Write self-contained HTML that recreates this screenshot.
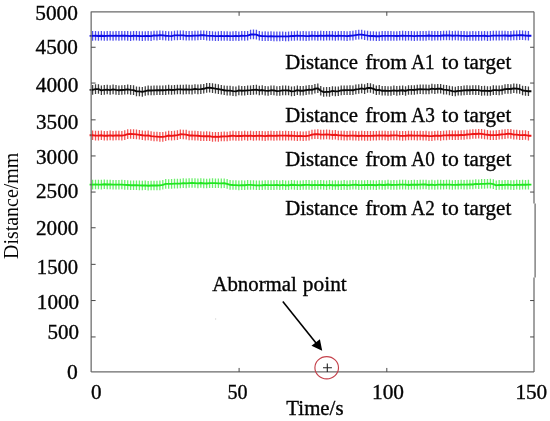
<!DOCTYPE html>
<html><head><meta charset="utf-8"><title>Distance chart</title>
<style>html,body{margin:0;padding:0;background:#fff}svg{display:block;filter:blur(0.35px)}</style></head>
<body>
<svg width="550" height="421" viewBox="0 0 550 421">
<rect width="550" height="421" fill="#fff"/>
<path d="M92.60 31.06v9.6M95.52 30.98v9.6M98.45 31.23v9.6M101.38 30.94v9.6M104.30 31.17v9.6M107.22 31.08v9.6M110.15 30.93v9.6M113.07 31.15v9.6M116.00 30.92v9.6M118.92 31.12v9.6M121.85 30.93v9.6M124.77 30.95v9.6M127.70 31.11v9.6M130.62 31.31v9.6M133.55 30.96v9.6M136.47 31.01v9.6M139.40 31.21v9.6M142.32 31.37v9.6M145.25 31.19v9.6M148.17 31.10v9.6M151.10 31.37v9.6M154.02 30.67v9.6M156.95 30.80v9.6M159.88 30.46v9.6M162.80 30.64v9.6M165.72 30.95v9.6M168.65 31.15v9.6M171.57 31.25v9.6M174.50 30.64v9.6M177.42 30.58v9.6M180.35 30.52v9.6M183.27 30.58v9.6M186.20 31.02v9.6M189.12 31.02v9.6M192.05 30.97v9.6M194.97 30.81v9.6M197.90 30.75v9.6M200.82 30.43v9.6M203.75 30.42v9.6M206.67 30.85v9.6M209.60 31.12v9.6M212.52 31.15v9.6M215.45 31.39v9.6M218.38 31.34v9.6M221.30 31.10v9.6M224.22 31.26v9.6M227.15 31.22v9.6M230.07 31.38v9.6M233.00 31.29v9.6M235.92 31.06v9.6M238.85 31.40v9.6M241.77 30.96v9.6M244.70 31.11v9.6M247.62 30.89v9.6M250.55 29.72v9.6M253.47 29.56v9.6M256.40 29.85v9.6M259.32 30.99v9.6M262.25 31.38v9.6M265.17 31.31v9.6M268.10 31.52v9.6M271.02 31.31v9.6M273.95 31.57v9.6M276.88 31.58v9.6M279.80 31.59v9.6M282.72 31.51v9.6M285.65 31.63v9.6M288.57 31.58v9.6M291.50 31.23v9.6M294.42 31.22v9.6M297.35 30.85v9.6M300.27 31.15v9.6M303.20 31.12v9.6M306.12 31.30v9.6M309.05 31.22v9.6M311.97 30.96v9.6M314.90 31.01v9.6M317.82 31.16v9.6M320.75 30.85v9.6M323.67 31.08v9.6M326.60 30.94v9.6M329.52 30.92v9.6M332.45 30.90v9.6M335.37 31.26v9.6M338.30 30.95v9.6M341.22 31.02v9.6M344.15 31.09v9.6M347.07 31.33v9.6M350.00 30.94v9.6M352.92 30.85v9.6M355.85 30.26v9.6M358.77 29.87v9.6M361.70 29.76v9.6M364.62 30.38v9.6M367.55 30.86v9.6M370.47 31.21v9.6M373.40 31.18v9.6M376.32 31.43v9.6M379.25 31.46v9.6M382.17 31.05v9.6M385.10 31.05v9.6M388.02 31.06v9.6M390.95 31.04v9.6M393.87 31.15v9.6M396.80 31.18v9.6M399.72 31.00v9.6M402.65 30.86v9.6M405.57 31.05v9.6M408.50 31.01v9.6M411.42 31.10v9.6M414.35 31.28v9.6M417.27 31.15v9.6M420.20 31.06v9.6M423.12 31.10v9.6M426.05 31.10v9.6M428.97 30.74v9.6M431.90 31.11v9.6M434.82 31.00v9.6M437.75 31.00v9.6M440.67 30.92v9.6M443.60 30.70v9.6M446.52 30.70v9.6M449.45 30.60v9.6M452.37 30.94v9.6M455.30 30.75v9.6M458.22 30.86v9.6M461.15 31.04v9.6M464.07 31.10v9.6M467.00 31.25v9.6M469.92 31.13v9.6M472.85 31.09v9.6M475.77 31.14v9.6M478.70 31.07v9.6M481.62 31.15v9.6M484.55 30.92v9.6M487.47 31.29v9.6M490.40 31.10v9.6M493.32 30.82v9.6M496.25 30.84v9.6M499.17 30.87v9.6M502.10 30.87v9.6M505.02 30.70v9.6M507.95 30.99v9.6M510.87 30.97v9.6M513.80 30.62v9.6M516.72 30.57v9.6M519.65 30.34v9.6M522.57 30.43v9.6M525.50 30.77v9.6M528.42 30.95v9.6" stroke="#0b0be6" stroke-width="1.3" fill="none" opacity="0.72"/>
<polyline points="89.60,35.86 92.60,35.86 95.52,35.78 98.45,36.03 101.38,35.74 104.30,35.97 107.22,35.88 110.15,35.73 113.07,35.95 116.00,35.72 118.92,35.92 121.85,35.73 124.77,35.75 127.70,35.91 130.62,36.11 133.55,35.76 136.47,35.81 139.40,36.01 142.32,36.17 145.25,35.99 148.17,35.90 151.10,36.17 154.02,35.47 156.95,35.60 159.88,35.26 162.80,35.44 165.72,35.75 168.65,35.95 171.57,36.05 174.50,35.44 177.42,35.38 180.35,35.32 183.27,35.38 186.20,35.82 189.12,35.82 192.05,35.77 194.97,35.61 197.90,35.55 200.82,35.23 203.75,35.22 206.67,35.65 209.60,35.92 212.52,35.95 215.45,36.19 218.38,36.14 221.30,35.90 224.22,36.06 227.15,36.02 230.07,36.18 233.00,36.09 235.92,35.86 238.85,36.20 241.77,35.76 244.70,35.91 247.62,35.69 250.55,34.52 253.47,34.36 256.40,34.65 259.32,35.79 262.25,36.18 265.17,36.11 268.10,36.32 271.02,36.11 273.95,36.37 276.88,36.38 279.80,36.39 282.72,36.31 285.65,36.43 288.57,36.38 291.50,36.03 294.42,36.02 297.35,35.65 300.27,35.95 303.20,35.92 306.12,36.10 309.05,36.02 311.97,35.76 314.90,35.81 317.82,35.96 320.75,35.65 323.67,35.88 326.60,35.74 329.52,35.72 332.45,35.70 335.37,36.06 338.30,35.75 341.22,35.82 344.15,35.89 347.07,36.13 350.00,35.74 352.92,35.65 355.85,35.06 358.77,34.67 361.70,34.56 364.62,35.18 367.55,35.66 370.47,36.01 373.40,35.98 376.32,36.23 379.25,36.26 382.17,35.85 385.10,35.85 388.02,35.86 390.95,35.84 393.87,35.95 396.80,35.98 399.72,35.80 402.65,35.66 405.57,35.85 408.50,35.81 411.42,35.90 414.35,36.08 417.27,35.95 420.20,35.86 423.12,35.90 426.05,35.90 428.97,35.54 431.90,35.91 434.82,35.80 437.75,35.80 440.67,35.72 443.60,35.50 446.52,35.50 449.45,35.40 452.37,35.74 455.30,35.55 458.22,35.66 461.15,35.84 464.07,35.90 467.00,36.05 469.92,35.93 472.85,35.89 475.77,35.94 478.70,35.87 481.62,35.95 484.55,35.72 487.47,36.09 490.40,35.90 493.32,35.62 496.25,35.64 499.17,35.67 502.10,35.67 505.02,35.50 507.95,35.79 510.87,35.77 513.80,35.42 516.72,35.37 519.65,35.14 522.57,35.23 525.50,35.57 528.42,35.75 531.42,35.75" stroke="#0b0be6" stroke-width="1.85" fill="none" stroke-linejoin="round"/>
<path d="M92.60 85.10v9.6M95.52 84.34v9.6M98.45 84.27v9.6M101.38 85.51v9.6M104.30 85.12v9.6M107.22 84.75v9.6M110.15 85.25v9.6M113.07 84.58v9.6M116.00 85.06v9.6M118.92 85.45v9.6M121.85 85.19v9.6M124.77 84.94v9.6M127.70 84.54v9.6M130.62 85.03v9.6M133.55 85.31v9.6M136.47 86.55v9.6M139.40 86.63v9.6M142.32 87.03v9.6M145.25 86.25v9.6M148.17 85.58v9.6M151.10 85.72v9.6M154.02 85.61v9.6M156.95 85.43v9.6M159.88 85.39v9.6M162.80 85.43v9.6M165.72 85.37v9.6M168.65 84.79v9.6M171.57 85.17v9.6M174.50 85.00v9.6M177.42 84.63v9.6M180.35 84.63v9.6M183.27 84.82v9.6M186.20 84.55v9.6M189.12 84.76v9.6M192.05 84.84v9.6M194.97 84.14v9.6M197.90 84.61v9.6M200.82 84.37v9.6M203.75 83.99v9.6M206.67 83.06v9.6M209.60 82.93v9.6M212.52 83.34v9.6M215.45 83.86v9.6M218.38 84.28v9.6M221.30 84.88v9.6M224.22 85.46v9.6M227.15 85.80v9.6M230.07 85.81v9.6M233.00 86.32v9.6M235.92 86.55v9.6M238.85 85.53v9.6M241.77 85.93v9.6M244.70 85.90v9.6M247.62 85.51v9.6M250.55 85.40v9.6M253.47 85.11v9.6M256.40 84.83v9.6M259.32 85.67v9.6M262.25 85.24v9.6M265.17 85.89v9.6M268.10 86.15v9.6M271.02 85.48v9.6M273.95 85.53v9.6M276.88 86.27v9.6M279.80 86.11v9.6M282.72 85.56v9.6M285.65 85.60v9.6M288.57 85.68v9.6M291.50 86.57v9.6M294.42 86.35v9.6M297.35 85.38v9.6M300.27 85.97v9.6M303.20 85.94v9.6M306.12 85.38v9.6M309.05 84.93v9.6M311.97 85.02v9.6M314.90 83.98v9.6M317.82 83.52v9.6M320.75 85.97v9.6M323.67 87.26v9.6M326.60 87.00v9.6M329.52 87.12v9.6M332.45 86.15v9.6M335.37 86.55v9.6M338.30 86.43v9.6M341.22 85.57v9.6M344.15 85.47v9.6M347.07 85.40v9.6M350.00 85.29v9.6M352.92 85.49v9.6M355.85 84.59v9.6M358.77 84.25v9.6M361.70 83.66v9.6M364.62 84.28v9.6M367.55 83.03v9.6M370.47 83.18v9.6M373.40 84.17v9.6M376.32 85.42v9.6M379.25 85.04v9.6M382.17 85.97v9.6M385.10 85.91v9.6M388.02 86.14v9.6M390.95 86.13v9.6M393.87 85.52v9.6M396.80 86.03v9.6M399.72 85.72v9.6M402.65 85.44v9.6M405.57 86.19v9.6M408.50 85.13v9.6M411.42 85.15v9.6M414.35 85.15v9.6M417.27 84.74v9.6M420.20 84.39v9.6M423.12 84.60v9.6M426.05 84.58v9.6M428.97 84.77v9.6M431.90 83.87v9.6M434.82 84.33v9.6M437.75 83.91v9.6M440.67 83.94v9.6M443.60 84.80v9.6M446.52 85.01v9.6M449.45 85.67v9.6M452.37 86.36v9.6M455.30 86.69v9.6M458.22 86.02v9.6M461.15 85.97v9.6M464.07 85.54v9.6M467.00 85.31v9.6M469.92 85.43v9.6M472.85 85.17v9.6M475.77 85.34v9.6M478.70 85.37v9.6M481.62 86.04v9.6M484.55 85.85v9.6M487.47 86.13v9.6M490.40 86.23v9.6M493.32 85.30v9.6M496.25 85.40v9.6M499.17 85.56v9.6M502.10 85.20v9.6M505.02 84.26v9.6M507.95 84.11v9.6M510.87 84.19v9.6M513.80 83.51v9.6M516.72 83.81v9.6M519.65 84.24v9.6M522.57 85.67v9.6M525.50 86.05v9.6M528.42 86.48v9.6" stroke="#0a0a0a" stroke-width="1.3" fill="none" opacity="0.78"/>
<polyline points="89.60,89.90 92.60,89.90 95.52,89.14 98.45,89.07 101.38,90.31 104.30,89.92 107.22,89.55 110.15,90.05 113.07,89.38 116.00,89.86 118.92,90.25 121.85,89.99 124.77,89.74 127.70,89.34 130.62,89.83 133.55,90.11 136.47,91.35 139.40,91.43 142.32,91.83 145.25,91.05 148.17,90.38 151.10,90.52 154.02,90.41 156.95,90.23 159.88,90.19 162.80,90.23 165.72,90.17 168.65,89.59 171.57,89.97 174.50,89.80 177.42,89.43 180.35,89.43 183.27,89.62 186.20,89.35 189.12,89.56 192.05,89.64 194.97,88.94 197.90,89.41 200.82,89.17 203.75,88.79 206.67,87.86 209.60,87.73 212.52,88.14 215.45,88.66 218.38,89.08 221.30,89.68 224.22,90.26 227.15,90.60 230.07,90.61 233.00,91.12 235.92,91.35 238.85,90.33 241.77,90.73 244.70,90.70 247.62,90.31 250.55,90.20 253.47,89.91 256.40,89.63 259.32,90.47 262.25,90.04 265.17,90.69 268.10,90.95 271.02,90.28 273.95,90.33 276.88,91.07 279.80,90.91 282.72,90.36 285.65,90.40 288.57,90.48 291.50,91.37 294.42,91.15 297.35,90.18 300.27,90.77 303.20,90.74 306.12,90.18 309.05,89.73 311.97,89.82 314.90,88.78 317.82,88.32 320.75,90.77 323.67,92.06 326.60,91.80 329.52,91.92 332.45,90.95 335.37,91.35 338.30,91.23 341.22,90.37 344.15,90.27 347.07,90.20 350.00,90.09 352.92,90.29 355.85,89.39 358.77,89.05 361.70,88.46 364.62,89.08 367.55,87.83 370.47,87.98 373.40,88.97 376.32,90.22 379.25,89.84 382.17,90.77 385.10,90.71 388.02,90.94 390.95,90.93 393.87,90.32 396.80,90.83 399.72,90.52 402.65,90.24 405.57,90.99 408.50,89.93 411.42,89.95 414.35,89.95 417.27,89.54 420.20,89.19 423.12,89.40 426.05,89.38 428.97,89.57 431.90,88.67 434.82,89.13 437.75,88.71 440.67,88.74 443.60,89.60 446.52,89.81 449.45,90.47 452.37,91.16 455.30,91.49 458.22,90.82 461.15,90.77 464.07,90.34 467.00,90.11 469.92,90.23 472.85,89.97 475.77,90.14 478.70,90.17 481.62,90.84 484.55,90.65 487.47,90.93 490.40,91.03 493.32,90.10 496.25,90.20 499.17,90.36 502.10,90.00 505.02,89.06 507.95,88.91 510.87,88.99 513.80,88.31 516.72,88.61 519.65,89.04 522.57,90.47 525.50,90.85 528.42,91.28 531.42,91.28" stroke="#0a0a0a" stroke-width="1.85" fill="none" stroke-linejoin="round"/>
<path d="M92.60 130.49v9.6M95.52 130.83v9.6M98.45 130.80v9.6M101.38 130.49v9.6M104.30 130.93v9.6M107.22 130.98v9.6M110.15 130.53v9.6M113.07 130.97v9.6M116.00 130.64v9.6M118.92 130.69v9.6M121.85 130.89v9.6M124.77 130.30v9.6M127.70 129.31v9.6M130.62 129.16v9.6M133.55 129.33v9.6M136.47 129.60v9.6M139.40 130.00v9.6M142.32 130.46v9.6M145.25 130.83v9.6M148.17 130.57v9.6M151.10 131.27v9.6M154.02 131.65v9.6M156.95 131.76v9.6M159.88 132.10v9.6M162.80 132.08v9.6M165.72 131.51v9.6M168.65 130.71v9.6M171.57 131.00v9.6M174.50 130.69v9.6M177.42 130.32v9.6M180.35 129.48v9.6M183.27 129.64v9.6M186.20 129.82v9.6M189.12 130.68v9.6M192.05 130.72v9.6M194.97 130.78v9.6M197.90 130.99v9.6M200.82 131.37v9.6M203.75 131.46v9.6M206.67 131.30v9.6M209.60 131.42v9.6M212.52 132.05v9.6M215.45 131.96v9.6M218.38 132.11v9.6M221.30 131.74v9.6M224.22 131.55v9.6M227.15 131.65v9.6M230.07 131.20v9.6M233.00 130.79v9.6M235.92 131.26v9.6M238.85 131.08v9.6M241.77 131.18v9.6M244.70 130.76v9.6M247.62 131.23v9.6M250.55 130.76v9.6M253.47 131.24v9.6M256.40 131.01v9.6M259.32 130.94v9.6M262.25 131.08v9.6M265.17 131.31v9.6M268.10 130.93v9.6M271.02 130.85v9.6M273.95 131.10v9.6M276.88 130.93v9.6M279.80 130.86v9.6M282.72 130.89v9.6M285.65 130.83v9.6M288.57 130.92v9.6M291.50 130.99v9.6M294.42 131.04v9.6M297.35 131.39v9.6M300.27 131.19v9.6M303.20 131.38v9.6M306.12 131.21v9.6M309.05 130.84v9.6M311.97 129.77v9.6M314.90 129.45v9.6M317.82 129.33v9.6M320.75 129.82v9.6M323.67 129.78v9.6M326.60 129.61v9.6M329.52 129.80v9.6M332.45 130.22v9.6M335.37 129.96v9.6M338.30 130.65v9.6M341.22 130.64v9.6M344.15 130.79v9.6M347.07 131.00v9.6M350.00 130.75v9.6M352.92 130.83v9.6M355.85 130.96v9.6M358.77 131.16v9.6M361.70 130.80v9.6M364.62 131.12v9.6M367.55 131.07v9.6M370.47 131.05v9.6M373.40 130.93v9.6M376.32 130.90v9.6M379.25 130.73v9.6M382.17 130.77v9.6M385.10 130.71v9.6M388.02 131.08v9.6M390.95 130.74v9.6M393.87 130.64v9.6M396.80 130.56v9.6M399.72 131.00v9.6M402.65 131.03v9.6M405.57 130.92v9.6M408.50 130.71v9.6M411.42 130.71v9.6M414.35 130.77v9.6M417.27 130.90v9.6M420.20 130.75v9.6M423.12 130.94v9.6M426.05 130.85v9.6M428.97 131.28v9.6M431.90 131.28v9.6M434.82 130.99v9.6M437.75 130.75v9.6M440.67 131.11v9.6M443.60 130.63v9.6M446.52 130.57v9.6M449.45 130.27v9.6M452.37 130.42v9.6M455.30 130.42v9.6M458.22 130.41v9.6M461.15 130.21v9.6M464.07 130.26v9.6M467.00 129.71v9.6M469.92 129.56v9.6M472.85 129.18v9.6M475.77 129.18v9.6M478.70 128.93v9.6M481.62 129.10v9.6M484.55 129.62v9.6M487.47 129.96v9.6M490.40 130.41v9.6M493.32 130.39v9.6M496.25 130.32v9.6M499.17 129.91v9.6M502.10 129.55v9.6M505.02 129.34v9.6M507.95 128.93v9.6M510.87 129.06v9.6M513.80 129.86v9.6M516.72 129.78v9.6M519.65 130.33v9.6M522.57 130.36v9.6M525.50 130.23v9.6M528.42 130.92v9.6" stroke="#ee1414" stroke-width="1.3" fill="none" opacity="0.72"/>
<polyline points="89.60,135.29 92.60,135.29 95.52,135.63 98.45,135.60 101.38,135.29 104.30,135.73 107.22,135.78 110.15,135.33 113.07,135.77 116.00,135.44 118.92,135.49 121.85,135.69 124.77,135.10 127.70,134.11 130.62,133.96 133.55,134.13 136.47,134.40 139.40,134.80 142.32,135.26 145.25,135.63 148.17,135.37 151.10,136.07 154.02,136.45 156.95,136.56 159.88,136.90 162.80,136.88 165.72,136.31 168.65,135.51 171.57,135.80 174.50,135.49 177.42,135.12 180.35,134.28 183.27,134.44 186.20,134.62 189.12,135.48 192.05,135.52 194.97,135.58 197.90,135.79 200.82,136.17 203.75,136.26 206.67,136.10 209.60,136.22 212.52,136.85 215.45,136.76 218.38,136.91 221.30,136.54 224.22,136.35 227.15,136.45 230.07,136.00 233.00,135.59 235.92,136.06 238.85,135.88 241.77,135.98 244.70,135.56 247.62,136.03 250.55,135.56 253.47,136.04 256.40,135.81 259.32,135.74 262.25,135.88 265.17,136.11 268.10,135.73 271.02,135.65 273.95,135.90 276.88,135.73 279.80,135.66 282.72,135.69 285.65,135.63 288.57,135.72 291.50,135.79 294.42,135.84 297.35,136.19 300.27,135.99 303.20,136.18 306.12,136.01 309.05,135.64 311.97,134.57 314.90,134.25 317.82,134.13 320.75,134.62 323.67,134.58 326.60,134.41 329.52,134.60 332.45,135.02 335.37,134.76 338.30,135.45 341.22,135.44 344.15,135.59 347.07,135.80 350.00,135.55 352.92,135.63 355.85,135.76 358.77,135.96 361.70,135.60 364.62,135.92 367.55,135.87 370.47,135.85 373.40,135.73 376.32,135.70 379.25,135.53 382.17,135.57 385.10,135.51 388.02,135.88 390.95,135.54 393.87,135.44 396.80,135.36 399.72,135.80 402.65,135.83 405.57,135.72 408.50,135.51 411.42,135.51 414.35,135.57 417.27,135.70 420.20,135.55 423.12,135.74 426.05,135.65 428.97,136.08 431.90,136.08 434.82,135.79 437.75,135.55 440.67,135.91 443.60,135.43 446.52,135.37 449.45,135.07 452.37,135.22 455.30,135.22 458.22,135.21 461.15,135.01 464.07,135.06 467.00,134.51 469.92,134.36 472.85,133.98 475.77,133.98 478.70,133.73 481.62,133.90 484.55,134.42 487.47,134.76 490.40,135.21 493.32,135.19 496.25,135.12 499.17,134.71 502.10,134.35 505.02,134.14 507.95,133.73 510.87,133.86 513.80,134.66 516.72,134.58 519.65,135.13 522.57,135.16 525.50,135.03 528.42,135.72 531.42,135.72" stroke="#ee1414" stroke-width="1.85" fill="none" stroke-linejoin="round"/>
<path d="M92.60 179.84v9.6M95.52 179.68v9.6M98.45 179.75v9.6M101.38 179.81v9.6M104.30 179.42v9.6M107.22 179.67v9.6M110.15 179.68v9.6M113.07 179.89v9.6M116.00 179.88v9.6M118.92 179.90v9.6M121.85 179.77v9.6M124.77 180.08v9.6M127.70 180.17v9.6M130.62 180.42v9.6M133.55 180.38v9.6M136.47 180.44v9.6M139.40 180.58v9.6M142.32 180.71v9.6M145.25 180.52v9.6M148.17 180.92v9.6M151.10 180.70v9.6M154.02 180.70v9.6M156.95 180.68v9.6M159.88 180.61v9.6M162.80 180.01v9.6M165.72 179.08v9.6M168.65 179.13v9.6M171.57 179.04v9.6M174.50 178.85v9.6M177.42 178.78v9.6M180.35 178.75v9.6M183.27 178.29v9.6M186.20 178.60v9.6M189.12 178.26v9.6M192.05 178.14v9.6M194.97 178.26v9.6M197.90 178.54v9.6M200.82 178.22v9.6M203.75 178.54v9.6M206.67 178.69v9.6M209.60 178.40v9.6M212.52 178.33v9.6M215.45 178.39v9.6M218.38 178.51v9.6M221.30 178.56v9.6M224.22 178.47v9.6M227.15 179.06v9.6M230.07 180.03v9.6M233.00 180.19v9.6M235.92 180.25v9.6M238.85 180.55v9.6M241.77 180.28v9.6M244.70 180.44v9.6M247.62 180.11v9.6M250.55 180.14v9.6M253.47 180.26v9.6M256.40 180.50v9.6M259.32 180.50v9.6M262.25 180.48v9.6M265.17 180.23v9.6M268.10 180.35v9.6M271.02 180.30v9.6M273.95 180.29v9.6M276.88 180.06v9.6M279.80 180.51v9.6M282.72 180.07v9.6M285.65 180.52v9.6M288.57 180.49v9.6M291.50 179.92v9.6M294.42 180.18v9.6M297.35 180.39v9.6M300.27 180.48v9.6M303.20 180.17v9.6M306.12 180.06v9.6M309.05 180.03v9.6M311.97 180.47v9.6M314.90 180.04v9.6M317.82 180.26v9.6M320.75 180.00v9.6M323.67 180.24v9.6M326.60 180.50v9.6M329.52 180.01v9.6M332.45 180.43v9.6M335.37 180.25v9.6M338.30 180.48v9.6M341.22 180.38v9.6M344.15 180.10v9.6M347.07 180.51v9.6M350.00 180.27v9.6M352.92 180.00v9.6M355.85 179.99v9.6M358.77 180.28v9.6M361.70 180.26v9.6M364.62 180.18v9.6M367.55 180.08v9.6M370.47 180.21v9.6M373.40 180.19v9.6M376.32 180.48v9.6M379.25 179.90v9.6M382.17 180.24v9.6M385.10 180.19v9.6M388.02 179.69v9.6M390.95 180.16v9.6M393.87 180.03v9.6M396.80 180.15v9.6M399.72 179.78v9.6M402.65 179.84v9.6M405.57 179.86v9.6M408.50 180.23v9.6M411.42 179.99v9.6M414.35 179.86v9.6M417.27 179.91v9.6M420.20 179.83v9.6M423.12 179.70v9.6M426.05 179.74v9.6M428.97 180.19v9.6M431.90 179.87v9.6M434.82 180.26v9.6M437.75 179.85v9.6M440.67 179.86v9.6M443.60 179.99v9.6M446.52 179.77v9.6M449.45 179.83v9.6M452.37 180.13v9.6M455.30 180.02v9.6M458.22 179.92v9.6M461.15 179.76v9.6M464.07 179.89v9.6M467.00 179.87v9.6M469.92 179.63v9.6M472.85 179.69v9.6M475.77 179.16v9.6M478.70 179.39v9.6M481.62 179.03v9.6M484.55 179.06v9.6M487.47 178.90v9.6M490.40 178.78v9.6M493.32 179.37v9.6M496.25 180.52v9.6M499.17 180.06v9.6M502.10 180.18v9.6M505.02 180.00v9.6M507.95 179.90v9.6M510.87 180.14v9.6M513.80 180.28v9.6M516.72 179.83v9.6M519.65 180.05v9.6M522.57 179.82v9.6M525.50 179.95v9.6M528.42 179.84v9.6" stroke="#1fe61f" stroke-width="1.3" fill="none" opacity="0.66"/>
<polyline points="89.60,184.64 92.60,184.64 95.52,184.48 98.45,184.55 101.38,184.61 104.30,184.22 107.22,184.47 110.15,184.48 113.07,184.69 116.00,184.68 118.92,184.70 121.85,184.57 124.77,184.88 127.70,184.97 130.62,185.22 133.55,185.18 136.47,185.24 139.40,185.38 142.32,185.51 145.25,185.32 148.17,185.72 151.10,185.50 154.02,185.50 156.95,185.48 159.88,185.41 162.80,184.81 165.72,183.88 168.65,183.93 171.57,183.84 174.50,183.65 177.42,183.58 180.35,183.55 183.27,183.09 186.20,183.40 189.12,183.06 192.05,182.94 194.97,183.06 197.90,183.34 200.82,183.02 203.75,183.34 206.67,183.49 209.60,183.20 212.52,183.13 215.45,183.19 218.38,183.31 221.30,183.36 224.22,183.27 227.15,183.86 230.07,184.83 233.00,184.99 235.92,185.05 238.85,185.35 241.77,185.08 244.70,185.24 247.62,184.91 250.55,184.94 253.47,185.06 256.40,185.30 259.32,185.30 262.25,185.28 265.17,185.03 268.10,185.15 271.02,185.10 273.95,185.09 276.88,184.86 279.80,185.31 282.72,184.87 285.65,185.32 288.57,185.29 291.50,184.72 294.42,184.98 297.35,185.19 300.27,185.28 303.20,184.97 306.12,184.86 309.05,184.83 311.97,185.27 314.90,184.84 317.82,185.06 320.75,184.80 323.67,185.04 326.60,185.30 329.52,184.81 332.45,185.23 335.37,185.05 338.30,185.28 341.22,185.18 344.15,184.90 347.07,185.31 350.00,185.07 352.92,184.80 355.85,184.79 358.77,185.08 361.70,185.06 364.62,184.98 367.55,184.88 370.47,185.01 373.40,184.99 376.32,185.28 379.25,184.70 382.17,185.04 385.10,184.99 388.02,184.49 390.95,184.96 393.87,184.83 396.80,184.95 399.72,184.58 402.65,184.64 405.57,184.66 408.50,185.03 411.42,184.79 414.35,184.66 417.27,184.71 420.20,184.63 423.12,184.50 426.05,184.54 428.97,184.99 431.90,184.67 434.82,185.06 437.75,184.65 440.67,184.66 443.60,184.79 446.52,184.57 449.45,184.63 452.37,184.93 455.30,184.82 458.22,184.72 461.15,184.56 464.07,184.69 467.00,184.67 469.92,184.43 472.85,184.49 475.77,183.96 478.70,184.19 481.62,183.83 484.55,183.86 487.47,183.70 490.40,183.58 493.32,184.17 496.25,185.32 499.17,184.86 502.10,184.98 505.02,184.80 507.95,184.70 510.87,184.94 513.80,185.08 516.72,184.63 519.65,184.85 522.57,184.62 525.50,184.75 528.42,184.64 531.42,184.64" stroke="#1fe61f" stroke-width="1.85" fill="none" stroke-linejoin="round"/>
<g stroke="#6a6a6a" stroke-width="1.25" fill="none" stroke-linejoin="round">
<path d="M91.15 371.95V11.8H534.0"/>
<path d="M91.15 371.95H534.0"/>
<path d="M534.0 11.8V203.5"/>
<path d="M535.1 203.5V277.5"/>
<path d="M534.0 277.5V371.95"/>
</g>
<g stroke="#484848" stroke-width="1.0">
<path d="M91.15 336.95H95.6"/>
<path d="M534.0 336.95h-3.9"/>
<path d="M91.15 300.55H95.6"/>
<path d="M534.0 300.55h-3.9"/>
<path d="M91.15 264.35H95.6"/>
<path d="M91.15 227.75H95.6"/>
<path d="M91.15 192.05H95.6"/>
<path d="M534.0 192.05h-3.9"/>
<path d="M91.15 155.95H95.6"/>
<path d="M534.0 155.95h-3.9"/>
<path d="M91.15 119.85H95.6"/>
<path d="M534.0 119.85h-3.9"/>
<path d="M91.15 83.05H95.6"/>
<path d="M534.0 83.05h-3.9"/>
<path d="M91.15 47.25H95.6"/>
<path d="M534.0 47.25h-3.9"/>
<path d="M239.1 371.95v-4"/>
<path d="M239.1 11.8v4"/>
<path d="M386.8 371.95v-4"/>
<path d="M386.8 11.8v4"/>
</g>
<g font-family="'Liberation Serif', serif" font-size="20" fill="#050505" stroke="#050505" stroke-width="0.35">
<text x="35.24" y="19.70" font-size="20.4" textLength="42.63" lengthAdjust="spacingAndGlyphs">5000</text>
<text x="35.59" y="53.60" font-size="20.4" textLength="42.38" lengthAdjust="spacingAndGlyphs">4500</text>
<text x="35.81" y="91.60" font-size="20.4" textLength="42.56" lengthAdjust="spacingAndGlyphs">4000</text>
<text x="36.00" y="129.20" font-size="20.4" textLength="42.28" lengthAdjust="spacingAndGlyphs">3500</text>
<text x="36.00" y="163.50" font-size="20.4" textLength="42.28" lengthAdjust="spacingAndGlyphs">3000</text>
<text x="36.00" y="197.70" font-size="20.4" textLength="42.28" lengthAdjust="spacingAndGlyphs">2500</text>
<text x="36.00" y="235.30" font-size="20.4" textLength="42.28" lengthAdjust="spacingAndGlyphs">2000</text>
<text x="36.83" y="274.00" font-size="20.4" textLength="41.19" lengthAdjust="spacingAndGlyphs">1500</text>
<text x="36.84" y="308.90" font-size="20.4" textLength="42.19" lengthAdjust="spacingAndGlyphs">1000</text>
<text x="47.50" y="338.80" font-size="20.4" textLength="31.49" lengthAdjust="spacingAndGlyphs">500</text>
<text x="66.96" y="379.00" font-size="20.4" textLength="10.79" lengthAdjust="spacingAndGlyphs">0</text>
<text x="91.00" y="399.20" font-size="20.4" textLength="10.56" lengthAdjust="spacingAndGlyphs">0</text>
<text x="227.50" y="399.00" font-size="20.4" textLength="20.09" lengthAdjust="spacingAndGlyphs">50</text>
<text x="372.01" y="399.10" font-size="20.4" textLength="32.04" lengthAdjust="spacingAndGlyphs">100</text>
<text x="515.42" y="399.10" font-size="20.4" textLength="31.83" lengthAdjust="spacingAndGlyphs">150</text>
<text y="69.30" font-size="20.5"><tspan x="285.29" textLength="72.61" lengthAdjust="spacingAndGlyphs">Distance</tspan> <tspan x="365.23" textLength="41.77" lengthAdjust="spacingAndGlyphs">from</tspan> <tspan x="411.34" textLength="23.29" lengthAdjust="spacingAndGlyphs">A1</tspan> <tspan x="441.89" textLength="16.85" lengthAdjust="spacingAndGlyphs">to</tspan> <tspan x="463.78" textLength="47.45" lengthAdjust="spacingAndGlyphs">target</tspan></text>
<text y="122.30" font-size="20.5"><tspan x="285.29" textLength="72.61" lengthAdjust="spacingAndGlyphs">Distance</tspan> <tspan x="365.23" textLength="41.77" lengthAdjust="spacingAndGlyphs">from</tspan> <tspan x="411.35" textLength="23.55" lengthAdjust="spacingAndGlyphs">A3</tspan> <tspan x="441.89" textLength="16.85" lengthAdjust="spacingAndGlyphs">to</tspan> <tspan x="463.78" textLength="47.45" lengthAdjust="spacingAndGlyphs">target</tspan></text>
<text y="166.20" font-size="20.5"><tspan x="285.29" textLength="72.61" lengthAdjust="spacingAndGlyphs">Distance</tspan> <tspan x="365.23" textLength="41.77" lengthAdjust="spacingAndGlyphs">from</tspan> <tspan x="411.35" textLength="23.48" lengthAdjust="spacingAndGlyphs">A0</tspan> <tspan x="441.89" textLength="16.85" lengthAdjust="spacingAndGlyphs">to</tspan> <tspan x="463.78" textLength="47.45" lengthAdjust="spacingAndGlyphs">target</tspan></text>
<text y="215.10" font-size="20.5"><tspan x="285.29" textLength="72.61" lengthAdjust="spacingAndGlyphs">Distance</tspan> <tspan x="365.23" textLength="41.77" lengthAdjust="spacingAndGlyphs">from</tspan> <tspan x="411.35" textLength="23.40" lengthAdjust="spacingAndGlyphs">A2</tspan> <tspan x="441.89" textLength="16.85" lengthAdjust="spacingAndGlyphs">to</tspan> <tspan x="463.78" textLength="47.45" lengthAdjust="spacingAndGlyphs">target</tspan></text>
<text y="291.40" font-size="20.5"><tspan x="212.38" textLength="84.49" lengthAdjust="spacingAndGlyphs">Abnormal</tspan> <tspan x="302.86" textLength="43.88" lengthAdjust="spacingAndGlyphs">point</tspan></text>
<text x="286.35" y="414.70" font-size="20.5" textLength="57.16" lengthAdjust="spacingAndGlyphs">Time/s</text>
<text transform="translate(17.7 259) rotate(-90)" font-size="20.4" stroke="none" textLength="106.3" lengthAdjust="spacingAndGlyphs">Distance/mm</text>
</g>
<path d="M282.8 301.6L317 344.2" stroke="#000" stroke-width="1.6" fill="none"/>
<path d="M322.2 350.8L311.5 345.7L319.9 339.3Z" fill="#000"/>
<ellipse cx="326.7" cy="367.7" rx="11.8" ry="11.1" fill="none" stroke="#c4404a" stroke-width="1.15"/>
<path d="M323 367.8H331.9M327.3 363.6V372" stroke="#222" stroke-width="1.1" fill="none"/>
<circle cx="215.6" cy="319" r="0.7" fill="#d8d8d8"/>
</svg>
</body></html>
